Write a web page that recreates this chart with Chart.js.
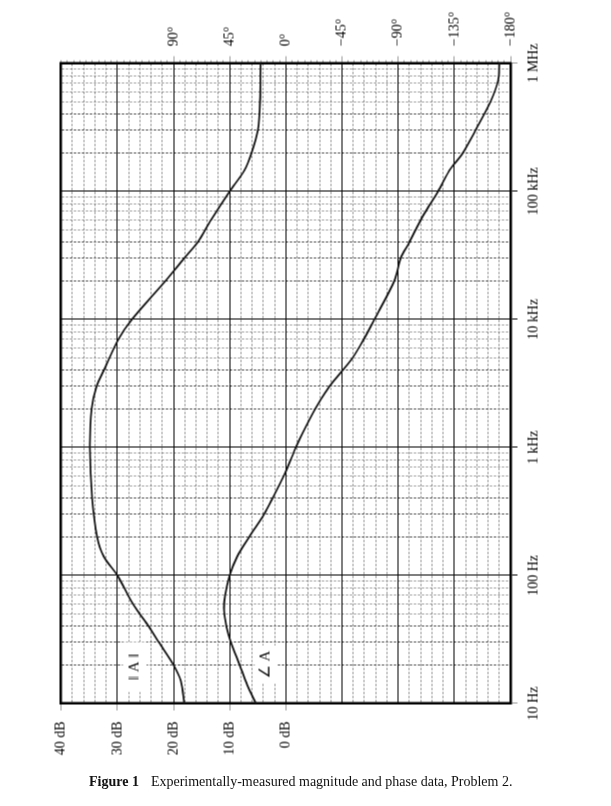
<!DOCTYPE html>
<html>
<head>
<meta charset="utf-8">
<script src="https://cdn.jsdelivr.net/npm/chart.js@4"></script>
<style>
  html, body { margin: 0; padding: 0; background: #fff; }
  body { width: 611px; height: 806px; position: relative; overflow: hidden;
         font-family: "Liberation Serif", "DejaVu Serif", serif; }
  /* chart is drawn landscape, then turned to match the page */
  #wrap { position: absolute; left: -97.5px; top: 97.5px; width: 806px; height: 611px;
          transform: rotate(-90deg); }
  #caption { position: absolute; left: 89px; top: 774px; font-size: 14px; white-space: nowrap; color: #111; }
  #caption b { margin-right: 12px; }
</style>
</head>
<body>
<div id="wrap"><canvas id="bode" width="806" height="611"></canvas></div>
<div id="caption"><b>Figure 1</b>Experimentally-measured magnitude and phase data, Problem 2.</div>
<script>
// decades on the frequency axis
const decadeValues = [10, 100, 1000, 10000, 100000, 1000000];
const freqLabels = ['10 Hz', '100 Hz', '1 kHz', '10 kHz', '100 kHz', '1 MHz'];

// ||A|| (Hz, dB)
const magFreq = [10, 15, 20, 30, 40, 53, 64, 100, 140, 200, 400, 1000, 2000, 3000, 4000, 7000,
                 10000, 20000, 30000, 40000, 60000, 100000, 145000, 200000, 300000, 500000, 1000000];
const magDb = [18.1, 18.7, 20.0, 22.6, 24.4, 26.4, 27.6, 30.0, 32.4, 33.6, 34.5, 34.9, 34.6, 33.7, 32.4, 29.8,
               27.4, 21.4, 18.1, 15.7, 13.3, 10.0, 7.4, 6.1, 5.0, 4.6, 4.5];

const phaseFreq = [10, 14, 20, 30, 40, 53, 70, 100, 140, 200, 300, 400, 650, 1000, 1300, 2000, 2500, 3000,
                   4000, 5000, 7000, 10000, 20000, 30000, 40000, 50000, 67000, 100000, 145000, 200000,
                   300000, 500000, 730000, 1000000];
const phaseDeg = [24, 31, 37, 44, 47.6, 49.5, 48.7, 45, 39, 29.4, 17.5, 10.7, 0, -8, -13.5, -23.5, -29.5, -35,
                  -45.5, -53.5, -62.5, -71, -87, -92, -99, -104, -111, -122, -131, -142,
                  -152, -164, -170, -171];

// minor frequency grid (2..9 in each decade)
const minorFreq = [];
for (let d = 0; d < decadeValues.length - 1; d++) {
    for (let m = 2; m <= 9; m++) minorFreq.push(decadeValues[d] * m);
}

const serif = '"Liberation Serif", "Times New Roman", serif';
const tickFont = { family: serif, size: 14 };

function mantissa(v) {
    return Math.round(v / Math.pow(10, Math.floor(Math.log10(v) + 1e-9)));
}

const curveLabels = {
    id: 'curveLabels',
    beforeDatasetsDraw(chart) {
        const ctx = chart.ctx;
        const x = chart.scales.x, yMag = chart.scales.yMag;
        const items = [
            { text: '\u2016 A \u2016', f: 19.3, db: 26.9, w: 50, h: 24 },
            { text: '\u2220 A', f: 20.2, db: 3.6, w: 38, h: 22 }
        ];
        ctx.save();
        items.forEach(function (it) {
            const px = x.getPixelForValue(it.f);
            const py = yMag.getPixelForValue(it.db);
            ctx.fillStyle = '#fff';
            ctx.fillRect(px - it.w / 2, py - it.h / 2, it.w, it.h);
            ctx.fillStyle = '#111';
            ctx.font = '15px ' + serif;
            ctx.textAlign = 'center';
            ctx.textBaseline = 'middle';
            ctx.fillText(it.text, px, py);
        });
        ctx.restore();
    }
};

const ctx = document.getElementById('bode').getContext('2d');
new Chart(ctx, {
    type: 'line',
    data: {
        datasets: [
            {
                label: '||A||',
                data: magFreq.map((f, i) => ({ x: f, y: magDb[i] })),
                yAxisID: 'yMag',
                borderColor: '#151515',
                borderWidth: 1.8,
                pointRadius: 0,
                tension: 0.3,
                fill: false
            },
            {
                label: 'angle A',
                data: phaseFreq.map((f, i) => ({ x: f, y: phaseDeg[i] })),
                yAxisID: 'yPhase',
                borderColor: '#151515',
                borderWidth: 1.8,
                pointRadius: 0,
                tension: 0.3,
                fill: false
            }
        ]
    },
    options: {
        responsive: false,
        animation: false,
        layout: { padding: { top: 60.7, left: 0, right: 0, bottom: 0 } },
        plugins: { legend: { display: false }, tooltip: { enabled: false } },
        scales: {
            x: {
                type: 'logarithmic',
                position: 'bottom',
                min: 10,
                max: 1000000,
                afterBuildTicks: s => { s.ticks = decadeValues.map(v => ({ value: v, major: true })); },
                afterFit: s => { s.height = 101; },
                grid: {
                    color: '#000',
                    lineWidth: 1,
                    tickLength: 7,
                    tickColor: c => (c.index === 0 || c.index === decadeValues.length - 1) ? '#999' : '#000'
                },
                border: { display: true, color: '#000', width: 2.5 },
                ticks: {
                    callback: (v, i) => freqLabels[i],
                    autoSkip: false,
                    maxRotation: 0,
                    color: '#000',
                    font: tickFont,
                    padding: 8
                }
            },
            xMinor: {
                type: 'logarithmic',
                position: 'top',
                min: 10,
                max: 1000000,
                afterBuildTicks: s => { s.ticks = minorFreq.map(v => ({ value: v })); },
                afterFit: s => { s.height = 0; },
                grid: {
                    color: c => mantissa(c.tick.value) <= 4 ? '#222' : '#8a8a8a',
                    lineWidth: 1,
                    drawTicks: false
                },
                border: { display: true, color: '#000', width: 2.5, dash: [2, 2] },
                ticks: { display: false }
            },
            yMag: {
                type: 'linear',
                position: 'left',
                min: -40,
                max: 40,
                afterFit: s => { s.width = 103; },
                grid: {
                    color: c => (c.tick.value % 10 === 0) ? 'rgba(0,0,0,0)' : '#7a7a7a',
                    lineWidth: 1,
                    tickLength: 7,
                    tickColor: c => (c.tick.value % 10 === 0 && c.tick.value >= 0) ? '#999' : 'rgba(0,0,0,0)'
                },
                border: { display: true, color: '#000', width: 2.5, dash: [2, 2] },
                ticks: {
                    stepSize: 2,
                    autoSkip: false,
                    callback: v => (v % 10 === 0 && v >= 0) ? v + ' dB' : '',
                    color: '#000',
                    font: tickFont,
                    padding: 11
                }
            },
            yPhaseMinor: {
                type: 'linear',
                position: 'right',
                weight: 0,
                min: -180,
                max: 180,
                afterFit: s => { s.width = 0; },
                grid: { drawOnChartArea: false, tickLength: 3, tickColor: '#999' },
                border: { display: false },
                ticks: { display: false, stepSize: 5 }
            },
            yPhase: {
                type: 'linear',
                position: 'right',
                weight: 1,
                min: -180,
                max: 180,
                afterFit: s => { s.width = 62.7; },
                grid: {
                    color: '#000',
                    lineWidth: 1,
                    tickLength: 7,
                    tickColor: c => c.tick.value <= 90 ? '#999' : 'rgba(0,0,0,0)'
                },
                border: { display: true, color: '#000', width: 2.5 },
                ticks: {
                    stepSize: 45,
                    autoSkip: false,
                    callback: v => v <= 90 ? String(v).replace('-', '\u2212') + '\u00b0' : '',
                    color: '#000',
                    font: tickFont,
                    padding: 10
                }
            }
        }
    },
    plugins: [curveLabels]
});
</script>
</body>
</html>
